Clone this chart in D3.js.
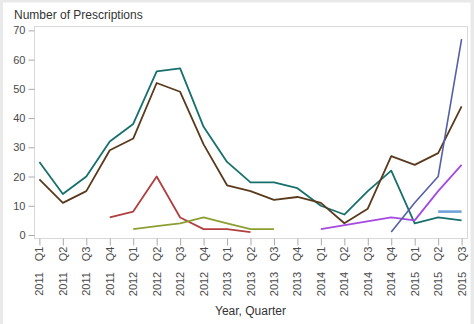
<!DOCTYPE html>
<html><head><meta charset="utf-8">
<script src="https://cdn.jsdelivr.net/npm/d3@7"></script>
<style>
html,body{margin:0;padding:0;background:#e9e9e9;}
svg{display:block;font-family:"Liberation Sans",Arial,sans-serif;}
</style></head>
<body><svg id="c" width="474" height="324"></svg>
<script>
const quarters = ["Q1","Q2","Q3","Q4","Q1","Q2","Q3","Q4","Q1","Q2","Q3","Q4","Q1","Q2","Q3","Q4","Q1","Q2","Q3"];
const years = ["2011","2011","2011","2011","2012","2012","2012","2012","2013","2013","2013","2013","2014","2014","2014","2014","2015","2015","2015"];
const yTicks = [0,10,20,30,40,50,60,70];
const tealSeries  = [25,14,20,32,38,56,57,37,25,18,18,16,10,7,15,22,4,6,5];
const brownSeries = [19,11,15,29,33,52,49,31,17,15,12,13,11,4,9,27,24,28,44];
const redSeries   = [null,null,null,6,8,20,6,2,2,1,null,null,null,null,null,null,null,null,null];
const oliveSeries = [null,null,null,null,2,3,4,6,4,2,2,null,null,null,null,null,null,null,null];
const purpleSeries= [null,null,null,null,null,null,null,null,null,null,null,null,2,null,null,6,5,15,24];
const navySeries  = [null,null,null,null,null,null,null,null,null,null,null,null,null,null,null,1,11,20,67];
const lightBlueSeries = [null,null,null,null,null,null,null,null,null,null,null,null,null,null,null,null,null,8,8];

const series = [
  {values: tealSeries, color: "#17706c", w: 1.8},
  {values: brownSeries, color: "#5a3a1c", w: 1.8},
  {values: redSeries, color: "#b0403f", w: 1.8},
  {values: oliveSeries, color: "#8c9f33", w: 1.8},
  {values: purpleSeries, color: "#a549e0", w: 1.8},
  {values: navySeries, color: "#5560a6", w: 1.6},
  {values: lightBlueSeries, color: "#6fa3d8", w: 2.6}
];

const svg = d3.select("#c");
svg.append("rect").attr("x",3).attr("y",2.5).attr("width",467.5).attr("height",322).attr("fill","#fff");

const box = {l:34, r:467, t:26, b:238};
const idx = d3.range(quarters.length);
const x = d3.scalePoint().domain(idx).range([box.l, box.r]).padding(0.23);
const y = d3.scaleLinear().domain([-1.03, 71.5]).range([box.b, box.t]);

svg.append("rect").attr("x",box.l+0.5).attr("y",box.t+0.5)
  .attr("width",box.r-box.l).attr("height",box.b-box.t)
  .attr("fill","none").attr("stroke","#d9d9d9");

const ya = svg.append("g").attr("transform",`translate(${box.l+0.5},0)`)
  .call(d3.axisLeft(y).tickValues(yTicks).tickSize(6).tickPadding(3));
ya.select(".domain").remove();
ya.selectAll("line").attr("stroke","#aaa");
ya.selectAll("text").attr("fill","#4a4a4a").style("font-size","11px");

const xa = svg.append("g").attr("transform",`translate(0,${box.b+0.5})`)
  .call(d3.axisBottom(x).tickSize(7).tickFormat(""));
xa.select(".domain").remove();
xa.selectAll("line").attr("stroke","#aaa");

idx.forEach(i=>{
  svg.append("text").attr("transform",`translate(${x(i)+4},${254}) rotate(-90)`)
    .attr("text-anchor","middle").attr("fill","#4a4a4a").style("font-size","11px").text(quarters[i]);
  svg.append("text").attr("transform",`translate(${x(i)+4},${284}) rotate(-90)`)
    .attr("text-anchor","middle").attr("fill","#4a4a4a").style("font-size","11px").text(years[i]);
});

svg.append("text").attr("x",(box.l+box.r)/2).attr("y",315).attr("text-anchor","middle")
  .attr("fill","#333").style("font-size","12px").text("Year, Quarter");
svg.append("text").attr("x",14).attr("y",19)
  .attr("fill","#333").style("font-size","12px").text("Number of Prescriptions");

const line = d3.line().x(d=>x(d.i)).y(d=>y(d.v));
series.forEach(s=>{
  const pts = s.values.map((v,i)=>({i,v})).filter(d=>d.v!==null);
  svg.append("path").datum(pts).attr("d",line).attr("fill","none")
    .attr("stroke",s.color).attr("stroke-width",s.w).attr("stroke-linejoin","round");
});
</script></body></html>
